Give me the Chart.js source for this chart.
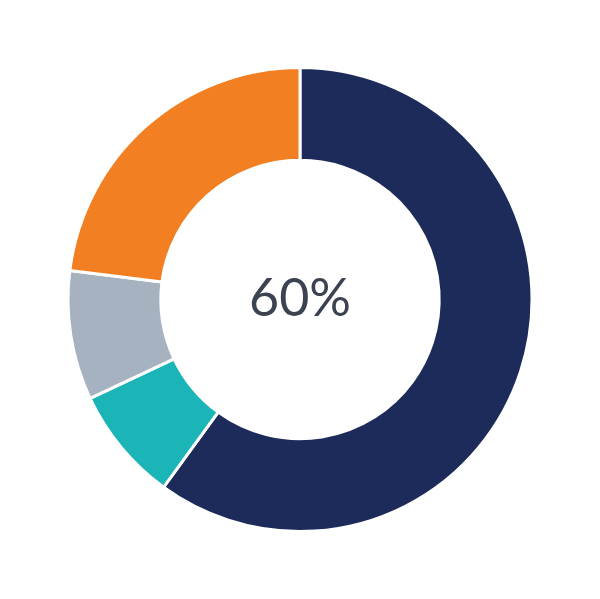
<!DOCTYPE html>
<html>
<head>
<meta charset="utf-8">
<script src="https://cdn.jsdelivr.net/npm/chart.js@4"></script>
<style>
html,body{margin:0;padding:0;background:#fff;}
#wrap{width:600px;height:599px;position:relative;}
</style>
</head>
<body>
<div id="wrap"><canvas id="c"></canvas></div>
<script>
const labels = ["A", "B", "C", "D"];
const values = [60, 8, 9, 23];
const colors = ["#1c2b5a", "#1bb5b7", "#a7b2c1", "#f27f21"];
const centerText = "60%";

const centerPlugin = {
  id: 'centerText',
  afterDraw(chart) {
    const meta = chart.getDatasetMeta(0);
    if (!meta.data.length) return;
    const arc = meta.data[0];
    const ctx = chart.ctx;
    ctx.save();
    ctx.font = '400 52px Lato';
    ctx.fillStyle = '#3b4250';
    ctx.textAlign = 'center';
    ctx.textBaseline = 'middle';
    ctx.fillText(centerText, arc.x, arc.y);
    ctx.restore();
  }
};

new Chart(document.getElementById('c'), {
  type: 'doughnut',
  data: {
    labels: labels,
    datasets: [{
      data: values,
      backgroundColor: colors,
      borderColor: '#ffffff',
      borderWidth: 3
    }]
  },
  options: {
    responsive: true,
    maintainAspectRatio: false,
    animation: false,
    cutout: '60%',
    layout: { padding: 66 },
    plugins: { legend: { display: false }, tooltip: { enabled: false } }
  },
  plugins: [centerPlugin]
});
</script>
</body>
</html>
